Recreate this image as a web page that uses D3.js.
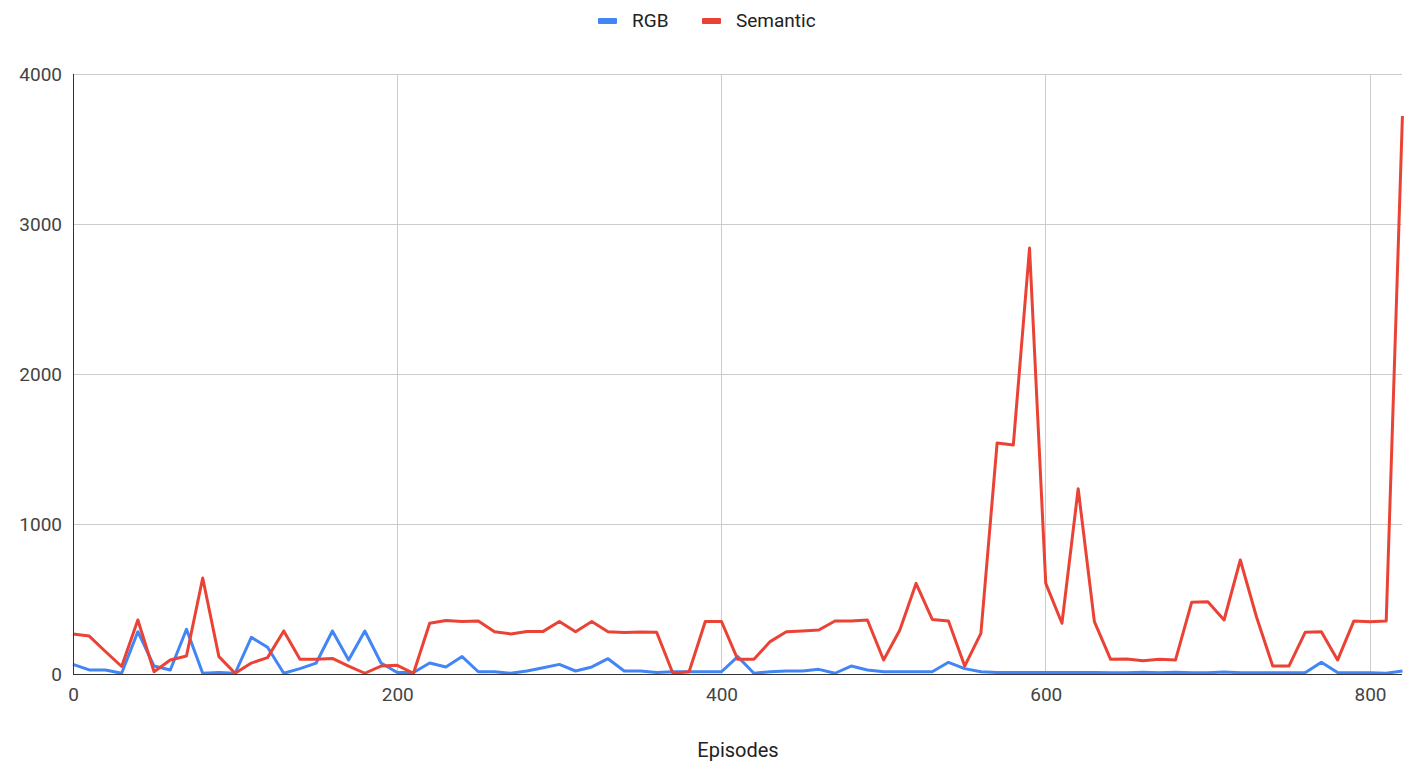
<!DOCTYPE html>
<html><head><meta charset="utf-8">
<script src="https://cdn.jsdelivr.net/npm/d3@7"></script>
<style>body{margin:0;background:#fff;}svg{display:block;font-family:Roboto, Arial, sans-serif;}</style>
</head><body>
<script>
const episodes = d3.range(0, 830, 10);
const rgb = [64,27,27,5,282,53,27,298,5,10,5,244,178,5,36,73,287,93,287,73,10,10,
  73,47,116,15,15,5,20,42,64,20,47,102,20,20,10,15,15,15,15,116,5,
  15,20,20,31,5,53,27,15,15,15,15,78,36,15,10,10,10,10,10,10,
  10,8,8,12,8,12,8,8,14,8,8,8,8,8,78,10,8,8,5,20];
const semantic = [267,253,150,50,360,15,93,120,640,116,5,73,109,287,98,99,104,53,5,53,58,5,
  338,356,350,353,282,267,284,284,350,282,350,282,276,280,278,5,15,350,350,98,
  98,216,282,287,293,353,353,360,93,293,604,364,353,53,271,1540,1527,2840,604,338,1235,
  349,98,100,89,98,93,478,482,360,760,380,53,53,278,282,93,353,349,353,3720];
const seriesNames = ["RGB","Semantic"];
const seriesColors = ["#4285F4","#EA4335"];
const yTicks = [0,1000,2000,3000,4000];
const xTicks = [0,200,400,600,800];

const W = 1412, H = 776;
const m = {left:73, right:10, top:74, bottom:102};
const FONT = "Roboto, Arial, sans-serif";
const svg = d3.select("body").append("svg").attr("width",W).attr("height",H);
const x = d3.scaleLinear().domain([0,820]).range([m.left, m.left + 820*(1297/800)]);
const y = d3.scaleLinear().domain([0,4000]).range([H-m.bottom, m.top]);

// gridlines
svg.append("g").selectAll("line").data(yTicks.filter(d=>d>0)).join("line")
  .attr("x1",x(0)).attr("x2",x(820)).attr("y1",d=>y(d)).attr("y2",d=>y(d))
  .attr("stroke","#cccccc").attr("stroke-width",1).attr("shape-rendering","crispEdges");
svg.append("g").selectAll("line").data(xTicks.filter(d=>d>0)).join("line")
  .attr("x1",d=>x(d)).attr("x2",d=>x(d)).attr("y1",y(0)).attr("y2",y(4000))
  .attr("stroke","#cccccc").attr("stroke-width",1).attr("shape-rendering","crispEdges");

// axes
const xAxis = svg.append("g").attr("transform",`translate(0,${y(0)})`)
  .call(d3.axisBottom(x).tickValues(xTicks).tickFormat(d3.format("d")).tickSize(0).tickPadding(14));
xAxis.select(".domain").remove();
xAxis.selectAll("text").attr("font-size",19).attr("fill","#444").attr("font-family",FONT);
const yAxis = svg.append("g").attr("transform",`translate(${m.left},0)`)
  .call(d3.axisLeft(y).tickValues(yTicks).tickFormat(d3.format("d")).tickSize(0).tickPadding(11));
yAxis.select(".domain").remove();
yAxis.selectAll("text").attr("font-size",19).attr("fill","#444").attr("font-family",FONT);

// lines
const data = [rgb, semantic];
data.forEach((vals,k)=>{
  const line = d3.line().x((d,i)=>x(episodes[i])).y(d=>y(d));
  svg.append("path").datum(vals).attr("d",line).attr("fill","none")
    .attr("stroke",seriesColors[k]).attr("stroke-width",3).attr("stroke-linejoin","round");
});

// axis lines
svg.append("line").attr("x1",x(0)).attr("x2",x(820)).attr("y1",y(0)).attr("y2",y(0))
  .attr("stroke","#333").attr("stroke-width",1).attr("shape-rendering","crispEdges");
svg.append("line").attr("x1",x(0)).attr("x2",x(0)).attr("y1",y(0)).attr("y2",y(4000))
  .attr("stroke","#333").attr("stroke-width",1).attr("shape-rendering","crispEdges");

// x title
svg.append("text").attr("x",738).attr("y",757).attr("text-anchor","middle")
  .attr("font-size",20).attr("fill","#222").attr("font-family",FONT).text("Episodes");

// legend
const lg = svg.append("g");
const legendItems = [{name:seriesNames[0],color:seriesColors[0],x:598,tx:632},
                     {name:seriesNames[1],color:seriesColors[1],x:702,tx:736}];
legendItems.forEach(it=>{
  lg.append("rect").attr("x",it.x).attr("y",18).attr("width",19).attr("height",6).attr("rx",1).attr("fill",it.color);
  lg.append("text").attr("x",it.tx).attr("y",27).attr("font-size",19).attr("fill","#222").attr("font-family",FONT).text(it.name);
});
</script>
</body></html>
